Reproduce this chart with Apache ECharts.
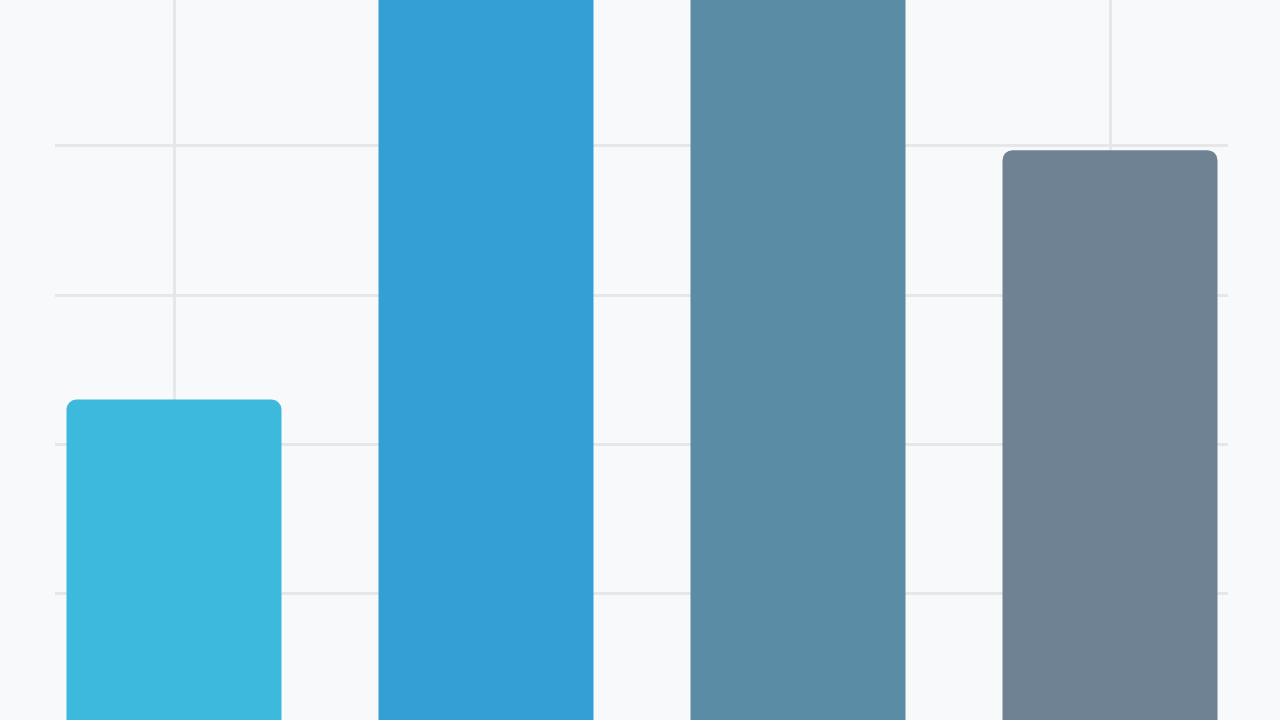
<!DOCTYPE html>
<html>
<head>
<meta charset="utf-8">
<script src="https://cdn.jsdelivr.net/npm/echarts@6/dist/echarts.min.js"></script>
<style>
  html, body { margin: 0; padding: 0; background: #f8f9fa; }
  #chart { width: 1280px; height: 720px; }
</style>
</head>
<body>
<div id="chart"></div>
<script>
// data
var categories = ['A', 'B', 'C', 'D'];
var values = [23, 55, 54, 39.7];
var barColors = ['#3cb9dc', '#339fd5', '#5a8ca6', '#6e8294'];
var yTicks = [0, 10, 20, 30, 40, 50, 60];

var myChart = echarts.init(document.getElementById('chart'));

var gridLine = { color: '#e5e7e9', width: 3 };

var option = {
    backgroundColor: '#f8f9fa',
    animation: false,
    grid: [
        // background horizontal lines
        { left: 55, right: 52, top: -153, bottom: -23, outerBoundsMode: 'none', containLabel: false },
        // bars
        { left: 18, right: 14, top: -153, bottom: -23, outerBoundsMode: 'none', containLabel: false }
    ],
    xAxis: [
        {
            gridIndex: 0, type: 'category', data: categories,
            axisLine: { show: false }, axisTick: { show: false },
            axisLabel: { show: false }, splitLine: { show: false }
        },
        {
            gridIndex: 1, type: 'category', data: categories,
            axisLine: { show: false }, axisTick: { show: false },
            axisLabel: { show: false },
            splitLine: { show: true, alignWithLabel: true, lineStyle: gridLine }
        }
    ],
    yAxis: [
        {
            gridIndex: 0, type: 'value',
            min: yTicks[0], max: yTicks[yTicks.length - 1], interval: 10,
            axisLine: { show: false }, axisTick: { show: false },
            axisLabel: { show: false },
            splitLine: { show: true, lineStyle: gridLine }
        },
        {
            gridIndex: 1, type: 'value',
            min: yTicks[0], max: yTicks[yTicks.length - 1], interval: 10,
            axisLine: { show: false }, axisTick: { show: false },
            axisLabel: { show: false }, splitLine: { show: false }
        }
    ],
    series: [
        {
            type: 'bar',
            xAxisIndex: 1,
            yAxisIndex: 1,
            barWidth: 215,
            clip: true,
            data: values.map(function (v, i) {
                return {
                    value: v,
                    itemStyle: { color: barColors[i], borderRadius: [10, 10, 0, 0] }
                };
            })
        }
    ]
};

myChart.setOption(option);
</script>
</body>
</html>
